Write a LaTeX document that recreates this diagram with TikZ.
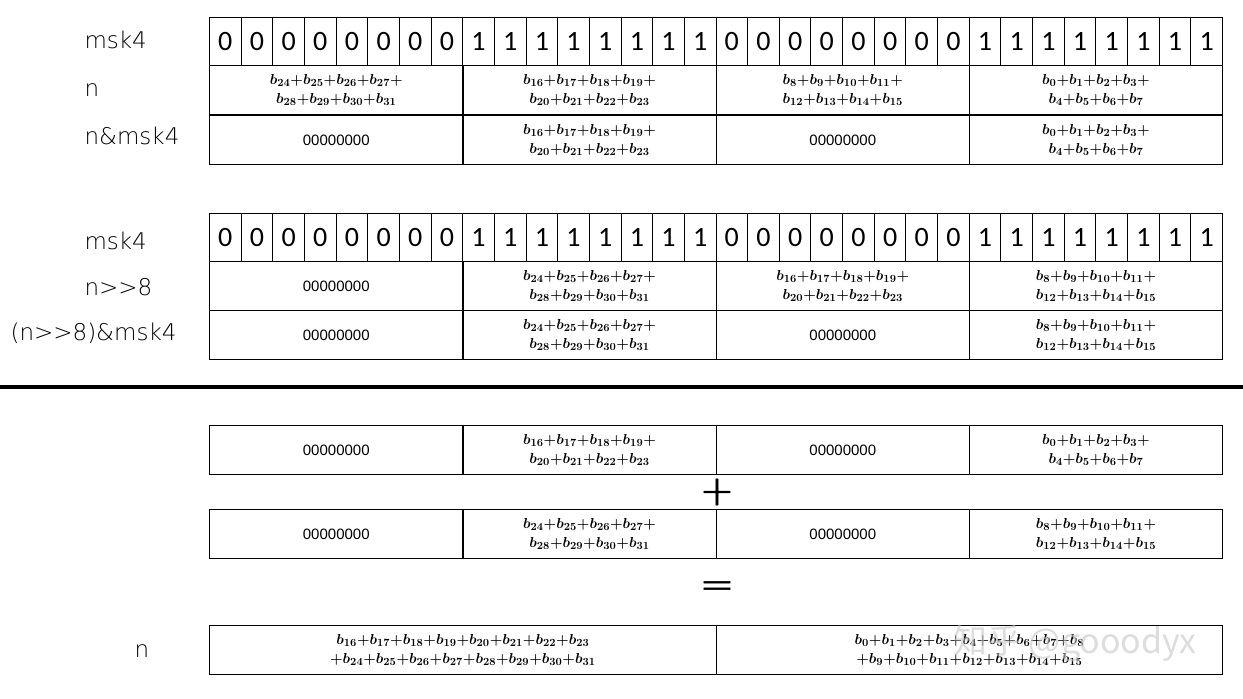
\documentclass[tikz,border=0pt]{standalone}
\usepackage{fontspec}
\setmainfont{Carlito}
\newfontfamily\labelfont{DejaVu Sans ExtraLight}
\newfontfamily\opfont[FakeBold=1.5]{DejaVu Sans ExtraLight}
\newfontfamily\cjkfont{Noto Sans CJK SC}
\newfontfamily\zerofont{Liberation Sans}
\newcommand\sA{$b_{24}{+}b_{25}{+}b_{26}{+}b_{27}{+}$\\$b_{28}{+}b_{29}{+}b_{30}{+}b_{31}$}
\newcommand\sB{$b_{16}{+}b_{17}{+}b_{18}{+}b_{19}{+}$\\$b_{20}{+}b_{21}{+}b_{22}{+}b_{23}$}
\newcommand\sC{$b_{8}{+}b_{9}{+}b_{10}{+}b_{11}{+}$\\$b_{12}{+}b_{13}{+}b_{14}{+}b_{15}$}
\newcommand\sD{$b_{0}{+}b_{1}{+}b_{2}{+}b_{3}{+}$\\$b_{4}{+}b_{5}{+}b_{6}{+}b_{7}$}
\newcommand\zz{{\zerofont\fontsize{15}{15}\selectfont 00000000}}
\begin{document}
\begin{tikzpicture}[x=1pt,y=-1pt,
	bit/.style={draw,line width=1pt,minimum width=31.66pt,minimum height=48pt,inner sep=0,anchor=north west,font=\fontsize{28}{28}\selectfont},
	quad/.style={draw,line width=1.3pt,minimum width=253.25pt,minimum height=49pt,inner sep=0,anchor=north west,align=center,font=\fontsize{15.5}{18.5}\selectfont\boldmath},
	half/.style={quad,minimum width=506.5pt},
	lbl/.style={anchor=west,font=\labelfont\fontsize{23}{23}\selectfont},
	op/.style={font=\opfont\fontsize{42}{42}\selectfont}]
	\useasboundingbox (0,0) rectangle (1243,699);
	% n & msk4
	\foreach \i in {0,...,31}{
		\pgfmathtruncatemacro\v{mod(floor(\i/8),2)}
		\node[bit] (a\i) at ({209+\i*31.656},17) {\v};
	}
	\foreach \t [count=\k from 0] in {\sA,\sB,\sC,\sD}
		\node[quad] (n\k) at ({209+\k*253.25},65) {\t};
	\foreach \t [count=\k from 0] in {\zz,\sB,\zz,\sD}
		\node[quad] (m\k) at ({209+\k*253.25},115) {\t};
	\node[lbl] (la1) at (81,40) {msk4};
	\node[lbl] (la2) at (81,90) {n};
	\node[lbl] (la3) at (81,136) {n\&msk4};
	% (n>>8) & msk4
	\foreach \i in {0,...,31}{
		\pgfmathtruncatemacro\v{mod(floor(\i/8),2)}
		\node[bit] (b\i) at ({209+\i*31.656},213) {\v};
	}
	\foreach \t [count=\k from 0] in {\zz,\sA,\sB,\sC}
		\node[quad] (s\k) at ({209+\k*253.25},261) {\t};
	\foreach \t [count=\k from 0] in {\zz,\sA,\zz,\sC}
		\node[quad] (t\k) at ({209+\k*253.25},310) {\t};
	\node[lbl] (lb1) at (81,241) {msk4};
	\node[lbl] (lb2) at (81,287) {n>{}>8};
	\node[lbl] (lb3) at (7,333) {(n>{}>8)\&msk4};
	\draw[line width=3.5pt] (0,387) -- (1243,387);
	% sum
	\foreach \t [count=\k from 0] in {\zz,\sB,\zz,\sD}
		\node[quad] (p\k) at ({209+\k*253.25},425) {\t};
	\node[op] (plus) at (717,492) {+};
	\foreach \t [count=\k from 0] in {\zz,\sA,\zz,\sC}
		\node[quad] (q\k) at ({209+\k*253.25},509) {\t};
	\node[op] (eq) at (717,590) {=};
	\node[half] (r0) at (209,625) {$b_{16}{+}b_{17}{+}b_{18}{+}b_{19}{+}b_{20}{+}b_{21}{+}b_{22}{+}b_{23}$\\${+}b_{24}{+}b_{25}{+}b_{26}{+}b_{27}{+}b_{28}{+}b_{29}{+}b_{30}{+}b_{31}$};
	\node[half] (r1) at (715.5,625) {$b_{0}{+}b_{1}{+}b_{2}{+}b_{3}{+}b_{4}{+}b_{5}{+}b_{6}{+}b_{7}{+}b_{8}$\\${+}b_{9}{+}b_{10}{+}b_{11}{+}b_{12}{+}b_{13}{+}b_{14}{+}b_{15}$};
	\node[lbl] (lc) at (131,651) {n};
	\node[text=gray!45,opacity=.6,font=\cjkfont\fontsize{34}{34}\selectfont] (wm) at (1075,643) {知乎 @gooodyx};
\end{tikzpicture}
\end{document}
